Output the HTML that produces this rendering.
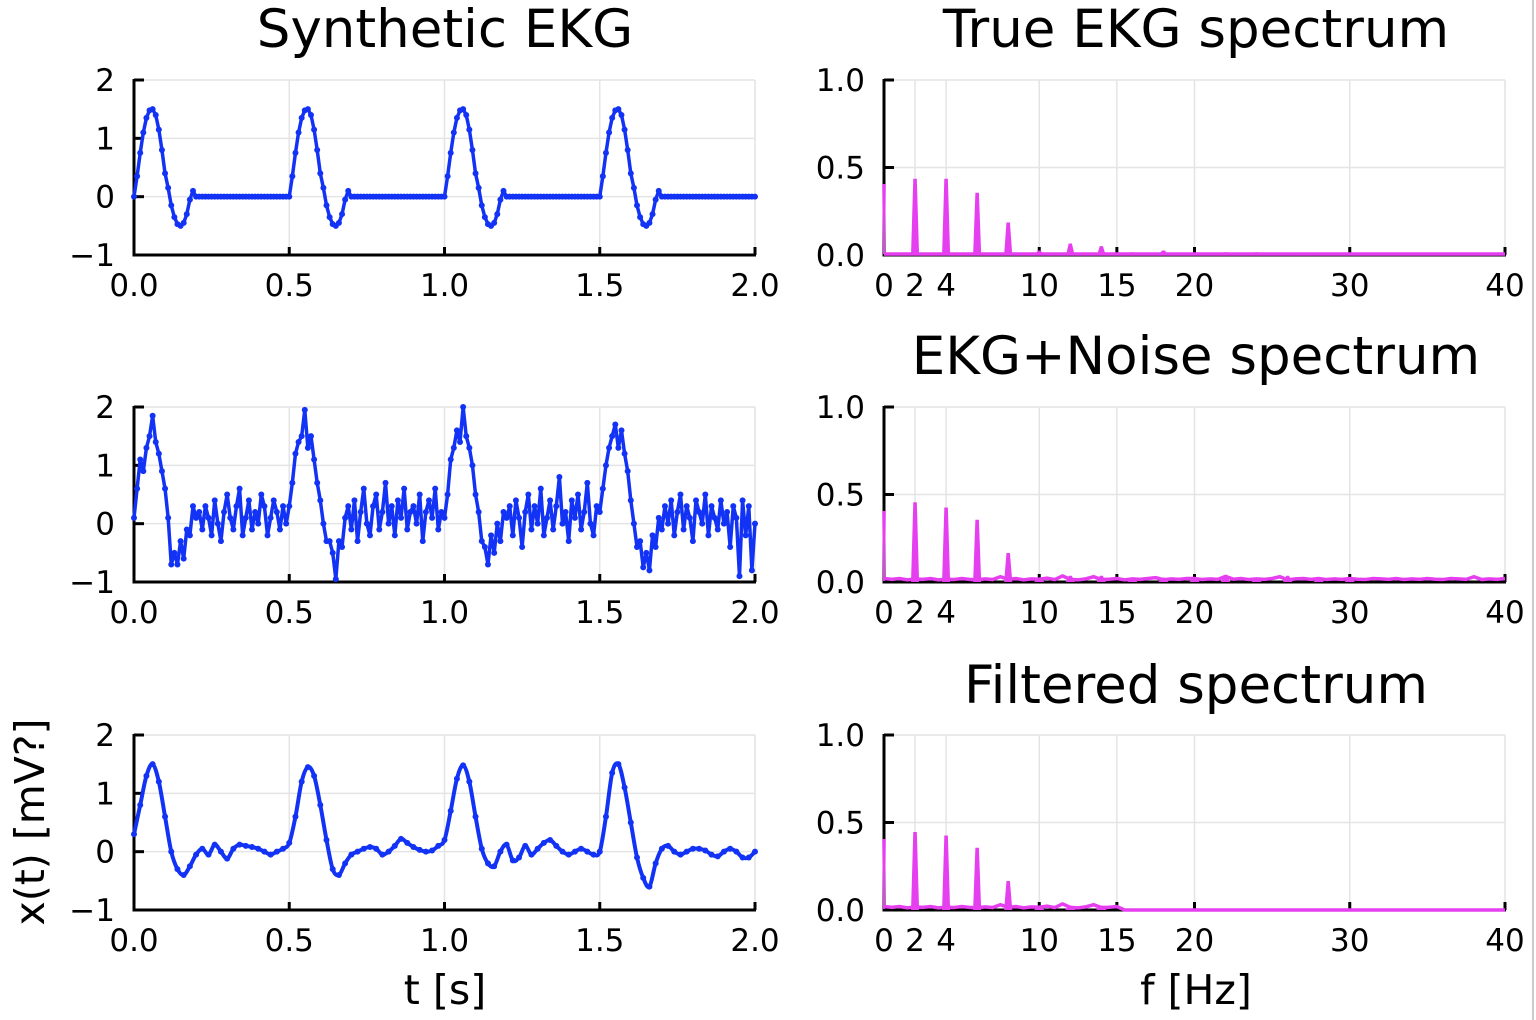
<!DOCTYPE html>
<html><head><meta charset="utf-8"><style>
html,body{margin:0;padding:0;background:#fff;}
svg{display:block;font-family:"DejaVu Sans","Liberation Sans",sans-serif;}
</style></head><body>
<svg id="fig" width="1536" height="1020" viewBox="0 0 1536 1020" xmlns="http://www.w3.org/2000/svg">
<rect width="1536" height="1020" fill="#fff"/>
<line x1="1533" y1="0" x2="1533" y2="1020" stroke="#ccc" stroke-width="2"/>
<text x="445" y="47" font-size="53" text-anchor="middle">Synthetic EKG</text>
<text x="1196" y="47" font-size="53" text-anchor="middle">True EKG spectrum</text>
<text x="1196" y="374" font-size="53" text-anchor="middle">EKG+Noise spectrum</text>
<text x="1196" y="703" font-size="53" text-anchor="middle">Filtered spectrum</text>
<text x="445" y="1004" font-size="41" text-anchor="middle">t [s]</text>
<text x="1196" y="1004" font-size="41" text-anchor="middle">f [Hz]</text>
<text x="0" y="0" font-size="41" text-anchor="middle" transform="translate(44,822) rotate(-90)">x(t) [mV?]</text>
</svg>
<script>
const dtClean = 0.01;
const cleanVals = [0,.35,.75,1.1,1.35,1.48,1.5,1.4,1.15,.8,.4,.15,-.15,-.35,-.47,-.5,-.45,-.3,-.05,.1,0,
0,0,0,0,0,0,0,0,0,0,0,0,0,0,0,0,0,0,0,0,0,0,0,0,0,0,0,0,0,
0,.35,.75,1.1,1.35,1.48,1.5,1.4,1.15,.8,.4,.15,-.15,-.35,-.47,-.5,-.45,-.3,-.05,.1,0,
0,0,0,0,0,0,0,0,0,0,0,0,0,0,0,0,0,0,0,0,0,0,0,0,0,0,0,0,0,
0,.35,.75,1.1,1.35,1.48,1.5,1.4,1.15,.8,.4,.15,-.15,-.35,-.47,-.5,-.45,-.3,-.05,.1,0,
0,0,0,0,0,0,0,0,0,0,0,0,0,0,0,0,0,0,0,0,0,0,0,0,0,0,0,0,0,
0,.35,.75,1.1,1.35,1.48,1.5,1.4,1.15,.8,.4,.15,-.15,-.35,-.47,-.5,-.45,-.3,-.05,.1,0,
0,0,0,0,0,0,0,0,0,0,0,0,0,0,0,0,0,0,0,0,0,0,0,0,0,0,0,0,0,0];
const noisyVals = [0.1,0.6,1.1,0.9,1.3,1.5,1.85,1.4,1.2,0.9,0.6,0.1,-0.7,-0.5,-0.7,-0.3,-0.6,-0.1,-0.2,0.3,0.1,
0.2,-0.1,0.3,0.1,-0.2,0.4,0.0,-0.3,0.2,0.5,0.1,-0.1,0.3,0.6,-0.2,0.1,0.4,-0.1,0.2,0.0,0.5,0.3,-0.2,0.1,0.4,0.2,-0.1,0.3,0.0,
0.3,0.7,1.2,1.4,1.5,1.95,1.3,1.5,1.1,0.7,0.4,0.0,-0.3,-0.3,-0.5,-0.95,-0.3,-0.4,0.1,0.3,-0.1,
0.4,-0.3,0.2,0.6,0.0,-0.2,0.3,0.5,-0.1,0.2,0.7,0.0,0.3,-0.2,0.4,0.1,0.6,-0.1,0.2,0.3,0.0,0.5,-0.3,0.2,0.4,0.1,0.6,-0.1,0.2,
0.1,0.5,1.1,1.3,1.6,1.4,2.0,1.5,1.3,1.0,0.5,0.2,-0.3,-0.4,-0.7,-0.2,-0.5,0.0,-0.3,0.2,0.1,
0.3,-0.2,0.4,0.1,-0.4,0.2,0.5,-0.1,0.3,0.0,0.6,-0.2,0.1,0.4,-0.1,0.3,0.8,0.0,0.2,-0.3,0.4,0.1,0.5,-0.1,0.2,0.7,0.0,-0.2,0.3,
0.2,0.6,1.0,1.3,1.5,1.7,1.3,1.6,1.2,0.9,0.4,0.0,-0.4,-0.3,-0.75,-0.5,-0.8,-0.2,-0.4,0.1,-0.1,
0.3,0.0,0.4,-0.2,0.2,0.5,-0.1,0.3,0.1,-0.3,0.4,0.2,0.0,0.5,-0.2,0.3,0.1,-0.1,0.4,0.0,0.2,-0.4,0.3,0.1,-0.9,0.4,-0.2,0.3,-0.8,0.0];
const dtFilt = 0.02;
const filtVals = [0.3,0.8,1.3,1.5,1.2,0.6,0.0,-0.3,-0.4,-0.25,-0.05,0.05,-0.05,0.12,0.0,-0.12,0.05,0.12,0.1,0.08,0.05,0.0,-0.05,0.0,0.05,
0.15,0.6,1.2,1.45,1.3,0.8,0.2,-0.3,-0.4,-0.2,-0.05,0.0,0.05,0.08,0.05,-0.05,0.0,0.1,0.22,0.15,0.08,0.03,0.0,0.02,0.1,
0.2,0.7,1.25,1.48,1.2,0.6,0.05,-0.2,-0.25,0.0,0.12,-0.15,-0.1,0.1,-0.05,0.05,0.15,0.2,0.1,0.0,-0.05,0.0,0.05,0.0,-0.05,
0.0,0.6,1.35,1.5,1.1,0.5,-0.1,-0.45,-0.6,-0.2,0.05,0.1,0.0,-0.05,0.0,0.05,0.05,0.02,-0.05,-0.08,0.0,0.05,0.0,-0.1,-0.1,0.0];
const harmFreqs = [0,2,4,6,8,10,12,14,16,18,20,22,24,26,28,30];
const trueAmps  = [0.4,0.43,0.43,0.35,0.18,0.02,0.06,0.045,0.01,0.02,0.005,0.01,0.01,0.005,0.005,0.005];
const noisyAmps = [0.4,0.45,0.42,0.35,0.16,0.02,0.03,0.03,0.02,0.02,0.02,0.03,0.02,0.03,0.02,0.02];
const filtAmps  = [0.4,0.44,0.42,0.35,0.16,0.02,0.02,0.02,0,0,0,0,0,0,0,0];
const floorDf = 0.5;
const noiseFloor = [0.02,0.015,0.02,0.012,0.018,0.015,0.02,0.012,0.016,0.014,0.02,0.015,0.012,0.018,0.014,0.03,0.015,0.02,0.012,0.018,
0.016,0.022,0.014,0.035,0.015,0.012,0.018,0.03,0.014,0.016,0.02,0.012,0.018,0.015,0.02,0.025,0.013,0.018,0.015,0.02,
0.02,0.014,0.018,0.015,0.032,0.016,0.02,0.014,0.018,0.015,0.02,0.03,0.012,0.018,0.02,0.015,0.02,0.014,0.018,0.015,
0.02,0.016,0.014,0.02,0.018,0.015,0.02,0.014,0.018,0.015,0.02,0.016,0.014,0.02,0.018,0.015,0.03,0.014,0.018,0.015,0.02];
const filtFloorCut = 15;
const tTicks = ["0.0","0.5","1.0","1.5","2.0"];
const yTicks = ["−1","0","1","2"];
const fTicks = ["0","2","4","10","15","20","30","40"];
const aTicks = ["0.0","0.5","1.0"];

const NS="http://www.w3.org/2000/svg";
const svg=document.getElementById('fig');
function el(tag,attrs,parent){const e=document.createElementNS(NS,tag);for(const k in attrs)e.setAttribute(k,attrs[k]);(parent||svg).appendChild(e);return e;}
const BLUE="#1233f5", MAG="#e53ff0";
const L0=134,L1=755,R0=884,R1=1505;
const rows=[[80,255],[407,582],[735,910]];

function axesFrame(x0,x1,y0,y1,xs,xlabels,ys,ylabels,name){
  const g=el('g',{});
  
  
  xlabels.forEach(l=>{const v=parseFloat(l);const X=xs(v);
    el('line',{x1:X,y1:y0,x2:X,y2:y1,stroke:'#e4e4e4','stroke-width':1.5},g);
    el('line',{x1:X,y1:y1,x2:X,y2:y1-8,stroke:'#000','stroke-width':3},g);
    const t=el('text',{x:X,y:y1+41,'font-size':31,'text-anchor':'middle'},g);t.textContent=l;});
  ylabels.forEach(l=>{const v=parseFloat(l.replace('−','-'));const Y=ys(v);
    el('line',{x1:x0,y1:Y,x2:x1,y2:Y,stroke:'#e4e4e4','stroke-width':1.5},g);
    el('line',{x1:x0,y1:Y,x2:x0+10,y2:Y,stroke:'#000','stroke-width':3},g);
    const t=el('text',{x:x0-19,y:Y+11,'font-size':31,'text-anchor':'end'},g);t.textContent=l;});
  el('line',{x1:x0,y1:y0-1,x2:x0,y2:y1+1.5,stroke:'#000','stroke-width':3},g);
  el('line',{x1:x0-1.5,y1:y1,x2:x1+1,y2:y1,stroke:'#000','stroke-width':3},g);
}
function timePlot(vals,dt,row,name,smooth){
  const [y0,y1]=rows[row];
  const xs=t=>L0+(t/2)*(L1-L0), ys=v=>y1-(v+1)/3*(y1-y0);
  axesFrame(L0,L1,y0,y1,xs,tTicks,ys,yTicks,name+'-axes');
  const pts=vals.map((v,i)=>[xs(i*dt),ys(v)]);
  let d;
  if(smooth){d='M'+pts[0].join(',');for(let i=0;i<pts.length-1;i++){const p0=pts[Math.max(0,i-1)],p1=pts[i],p2=pts[i+1],p3=pts[Math.min(pts.length-1,i+2)];
    d+=` C${p1[0]+(p2[0]-p0[0])/6},${p1[1]+(p2[1]-p0[1])/6} ${p2[0]-(p3[0]-p1[0])/6},${p2[1]-(p3[1]-p1[1])/6} ${p2[0]},${p2[1]}`;}}
  else d='M'+pts.map(p=>p.join(',')).join('L');
  const line=el('path',{d:d,fill:'none',stroke:BLUE,'stroke-width':smooth?4:3.5,'stroke-linejoin':'round'});
  
  
  pts.forEach(p=>{const c=el('circle',{cx:p[0],cy:p[1],r:3,fill:BLUE});
    
    });
}
function specPlot(amps,floor,cut,row,name){
  const [y0,y1]=rows[row];
  const xs=f=>R0+(f/40)*(R1-R0), ys=v=>y1-v*(y1-y0);
  axesFrame(R0,R1,y0,y1,xs,fTicks,ys,aTicks,name+'-axes');
  if(floor){
    const pts=floor.map((v,i)=>[i*floorDf,(i*floorDf<=cut)?v:0]);
    const fl=el('path',{d:'M'+pts.map(p=>xs(p[0])+','+ys(p[1])).join('L'),fill:'none',stroke:MAG,'stroke-width':3.5});
    
    
  } else {
    const fl=el('line',{x1:R0,y1:y1-1,x2:R1,y2:y1-1,stroke:MAG,'stroke-width':3.5});
    
    
  }
  harmFreqs.forEach((f,i)=>{const a=amps[i];if(a<=0)return;
    const x=xs(f),w=(f===0)?0:3;
    const p=el('path',{d:`M${x-w},${y1-1} L${x-0.8},${ys(a)} L${x+0.8},${ys(a)} L${x+w},${y1-1}Z`,fill:MAG,stroke:MAG,'stroke-width':2});
    
    });
}
timePlot(cleanVals,dtClean,0,'synthetic-ekg',false);
timePlot(noisyVals,dtClean,1,'noisy-ekg',false);
timePlot(filtVals,dtFilt,2,'filtered-ekg',true);
specPlot(trueAmps,null,0,0,'true-spectrum');
specPlot(noisyAmps,noiseFloor,40,1,'noise-spectrum');
specPlot(filtAmps,noiseFloor,filtFloorCut,2,'filtered-spectrum');
</script>
</body></html>
